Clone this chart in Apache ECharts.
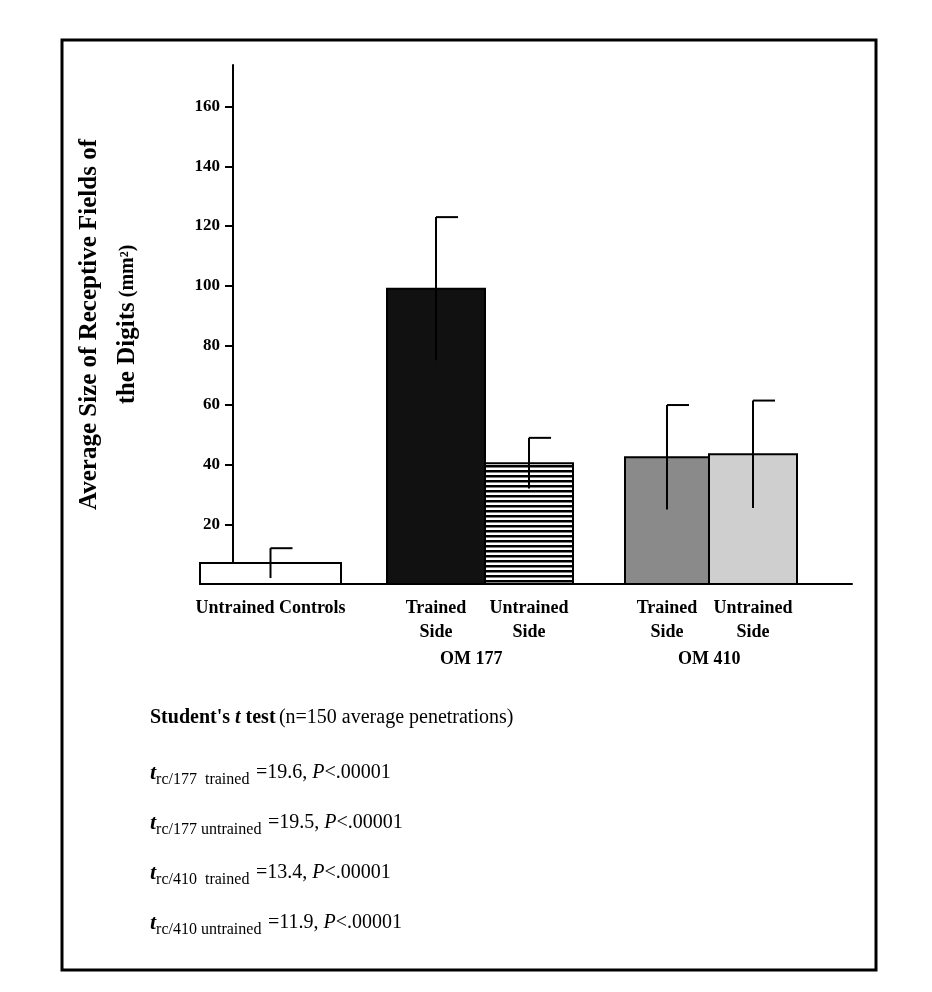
<html><head><meta charset="utf-8">
<script src="https://cdn.jsdelivr.net/npm/echarts@6/dist/echarts.min.js"></script>
<style>body{margin:0;background:#fff}#c{width:932px;height:992px}</style></head><body><div id="c"></div>
<script>
const groups = ["Untrained Controls","Trained\nSide","Untrained\nSide","Trained\nSide","Untrained\nSide"];
const barStart = [0, 18.7, 28.5, 42.5, 50.9];
const barEnd = [14.1, 28.5, 37.3, 50.9, 59.7];
const means = [7, 99, 40.5, 42.5, 43.5];
const errs = [5, 24, 8.5, 17.5, 18];
const fills = ["#ffffff","#111111","stripe","#8a8a8a","#cfcfcf"];
const yTicks = [20,40,60,80,100,120,140,160];
const serif = "'Liberation Serif','DejaVu Serif',serif";
const chart = echarts.init(document.getElementById('c'));
chart.setOption({
  animation:false,
  grid:{left:200,right:80,top:65,bottom:408},
  xAxis:{type:'value',min:0,max:65.2,axisLine:{show:true,onZero:false,lineStyle:{color:'#000',width:2}},axisTick:{show:false},axisLabel:{show:false},splitLine:{show:false}},
  yAxis:{type:'value',min:0,max:174,interval:20,offset:-33,
    axisLine:{show:true,lineStyle:{color:'#000',width:2}},
    axisTick:{show:true,length:8,lineStyle:{color:'#000',width:2}},
    axisLabel:{fontFamily:serif,fontWeight:'bold',fontSize:17,color:'#000',margin:13,showMaxLabel:false,
      formatter:v=>yTicks.includes(v)?String(v):''},
    splitLine:{show:false},
    name:'{b|Average Size of Receptive Fields of}\n{b|the Digits}{s| (mm²)}',nameLocation:'middle',nameGap:86,nameRotate:90,
    nameTextStyle:{rich:{b:{fontFamily:serif,fontWeight:'bold',fontSize:25,color:'#000',lineHeight:38},s:{fontFamily:serif,fontWeight:'bold',fontSize:20,color:'#000',lineHeight:38}}}},
  series:[{type:'custom',data:means.map((m,i)=>[barStart[i],barEnd[i],m,errs[i],i]),
    renderItem:(p,api)=>{
      const i=api.value(4);
      const a=api.coord([api.value(0),api.value(2)]), b=api.coord([api.value(1),0]);
      const x0=a[0],x1=b[0],yt=a[1],yb=b[1];
      const ch=[];
      const f=fills[i];
      ch.push({type:'rect',z2:1,shape:{x:x0,y:yt,width:x1-x0,height:yb-yt},style:{fill:f==='stripe'?'#fff':f,stroke:'#000',lineWidth:2}});
      if(f==='stripe'){for(let y=yt+3;y<yb;y+=5)ch.push({type:'line',z2:2,shape:{x1:x0,y1:y,x2:x1,y2:y},style:{stroke:'#000',lineWidth:2.5}});}
      const cx=(x0+x1)/2;
      const hi=api.coord([0,api.value(2)+api.value(3)])[1], lo=api.coord([0,api.value(2)-api.value(3)])[1];
      ch.push({type:'line',z2:20,shape:{x1:cx,y1:hi,x2:cx,y2:lo},style:{stroke:'#000',lineWidth:2}});
      ch.push({type:'line',z2:20,shape:{x1:cx,y1:hi,x2:cx+22,y2:hi},style:{stroke:'#000',lineWidth:2}});
      ch.push({type:'text',z2:20,style:{text:groups[i],x:cx,y:yb+12,align:'center',verticalAlign:'top',font:"bold 18px "+serif,fill:'#000',lineHeight:24}});
      return {type:'group',children:ch};
    }}],
  graphic:[
    {type:'rect',shape:{x:62,y:40,width:814,height:930},style:{fill:null,stroke:'#000',lineWidth:3},silent:true},
    {type:'text',left:440,top:650,style:{text:'OM 177',font:"bold 18px "+serif,fill:'#000'}},
    {type:'text',left:678,top:650,style:{text:'OM 410',font:"bold 18px "+serif,fill:'#000'}},
    {type:'text',left:150,top:708,style:{text:"{b|Student's }{bi|t}{b| test} {n|(n=150 average penetrations)}",
      rich:{b:{font:"bold 20px "+serif,fill:'#000'},bi:{font:"italic bold 20px "+serif,fill:'#000'},n:{font:"20px "+serif,fill:'#000'}}}},
    ...[['177  trained','=19.6'],['177 untrained','=19.5'],['410  trained','=13.4'],['410 untrained','=11.9']].map((r,k)=>({
      type:'text',left:150,top:762+k*50,style:{text:`{t|t}{s|rc/${r[0]}}  {n|${r[1]}, }{i|P}{n|<.00001}`,
      rich:{t:{font:"italic bold 22px "+serif,fill:'#000'},s:{font:"16px "+serif,fill:'#000',padding:[14,0,0,0]},n:{font:"20px "+serif,fill:'#000'},i:{font:"italic 20px "+serif,fill:'#000'}}}}))
  ]
});
</script></body></html>
